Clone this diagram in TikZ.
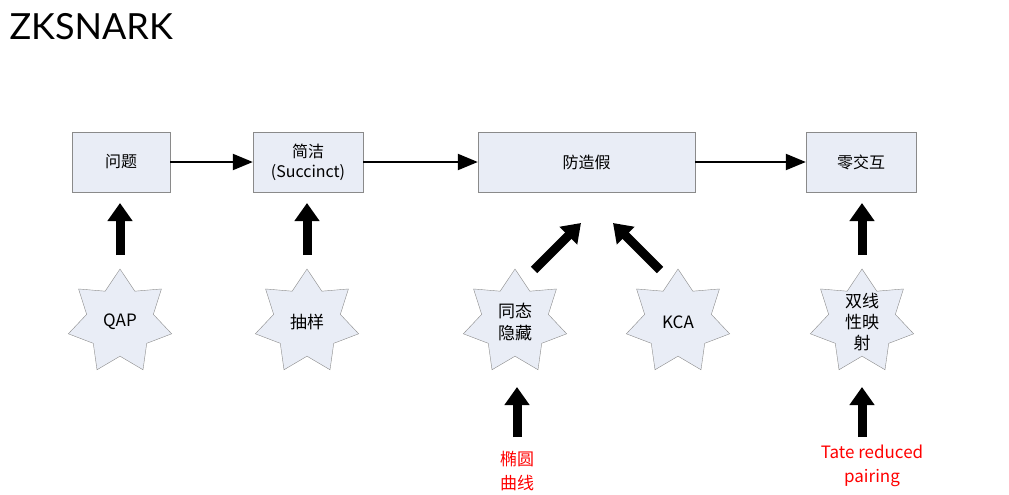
\documentclass[tikz,border=0pt]{standalone}
\usepackage{fontspec}
\setmainfont{Noto Sans CJK SC}
\newfontfamily\titlefont{Lato}
\usetikzlibrary{shapes.geometric,arrows.meta}
\definecolor{boxfill}{HTML}{E9EDF6}
\definecolor{boxdraw}{HTML}{8A8A8A}
\begin{document}
\begin{tikzpicture}[x=1pt,y=-1pt,
  box/.style={draw=boxdraw,fill=boxfill,minimum height=60pt,inner sep=0pt,align=center,font=\fontsize{16}{20}\selectfont},
  st/.style={star,star points=7,star point ratio=1.55,draw=boxdraw,fill=boxfill,minimum size=106pt,inner sep=0pt,align=center,font=\fontsize{17}{22}\selectfont},
  thin/.style={line width=2.2pt,-{Triangle[length=20pt,width=16pt]}},
  thick/.style={line width=9pt,-{Triangle[length=18pt,width=24pt]}},
  red/.style={text=red,align=center,font=\fontsize{17}{24}\selectfont}]
\useasboundingbox (0,0) rectangle (1009,495);
\node[anchor=west,font=\titlefont\fontsize{36}{40}\selectfont] (t) at (6,27) {ZKSNARK};
\node[box,minimum width=98pt] (a) at (121,162) {问题};
\node[box,minimum width=110pt] (b) at (308,162) {简洁\\(Succinct)};
\node[box,minimum width=217pt] (c) at (586.5,162) {防造假};
\node[box,minimum width=110pt] (d) at (861,162) {零交互};
\draw[thin] (a) -- (b);
\draw[thin] (b) -- (c);
\draw[thin] (c) -- (d);
\node[st] (s1) at (120,322) {QAP};
\node[st] (s2) at (307,322) {抽样};
\node[st] (s3) at (515,322) {同态\\隐藏};
\node[st] (s4) at (678,322) {KCA};
\node[st,inner sep=-14pt,font=\fontsize{17}{21}\selectfont] (s5) at (862,322) {双线\\性映\\射};
\coordinate (u1) at (120,255); \coordinate (v1) at (120,203);
\coordinate (u2) at (307,255); \coordinate (v2) at (307,203);
\coordinate (u5) at (862,255); \coordinate (v5) at (862,203);
\draw[thick] (u1) -- (v1);
\draw[thick] (u2) -- (v2);
\draw[thick] (u5) -- (v5);
\coordinate (p3) at (534,270); \coordinate (q3) at (581,223);
\coordinate (p4) at (660,270); \coordinate (q4) at (613,223);
\draw[thick] (p3) -- (q3);
\draw[thick] (p4) -- (q4);
\node[red] (r1) at (517,471) {椭圆\\曲线};
\node[red] (r2) at (872,466) {Tate reduced\\pairing};
\coordinate (w1) at (517,437); \coordinate (x1) at (517,387);
\coordinate (w2) at (862,437); \coordinate (x2) at (862,387);
\draw[thick] (w1) -- (x1);
\draw[thick] (w2) -- (x2);
\end{tikzpicture}
\end{document}
